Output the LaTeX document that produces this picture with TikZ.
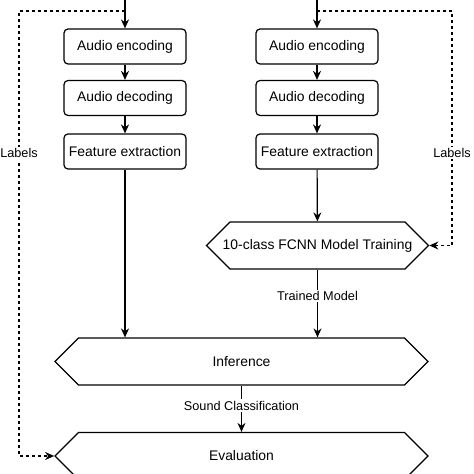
\documentclass[tikz,border=0pt]{standalone}
\usepackage{fontspec}
\setmainfont{Liberation Sans}
\usetikzlibrary{shapes,arrows,positioning,calc,arrows.meta}

\begin{document}
\begin{tikzpicture}[x=1pt, y=-1pt, line width=1.2pt, >={Stealth[length=9pt,width=8pt]},
    block/.style={draw, rounded corners=4pt, minimum width=122pt, minimum height=35pt, inner sep=0pt, font=\fontsize{13.9}{16}\selectfont},
    hexa/.style={draw, signal, signal to=east and west, signal pointer angle=90, minimum height=47pt, inner sep=0pt, font=\fontsize{13.9}{16}\selectfont},
    labelline/.style={->, dash pattern=on 3pt off 3pt},
    edgelabel/.style={fill=white, inner sep=1.5pt, font=\fontsize{12.7}{15}\selectfont}]
    \useasboundingbox (0,0) rectangle (474,474);

    % Left chain (test data)
    \node[block] at (125,46.5) (encL) {Audio encoding};
    \node[block] at (125,98) (decL) {Audio decoding};
    \node[block] at (125,151.5) (featL) {Feature extraction};
    % Right chain (training data)
    \node[block] at (317,46.5) (encR) {Audio encoding};
    \node[block] at (317,98) (decR) {Audio decoding};
    \node[block] at (317,151.5) (featR) {Feature extraction};

    % Model, inference and evaluation
    \node[hexa, minimum width=222pt] at (317.5,245.5) (train) {\makebox[174pt]{10-class FCNN Model Training}};
    \node[hexa, minimum width=373pt] at (241.5,361.5) (infer) {Inference};
    \node[hexa, minimum width=373pt] at (241.5,456) (eval) {Evaluation};

    % Inputs
    \coordinate (inL) at (125,-5);
    \coordinate (inR) at (317,-5);
    \coordinate (tapL) at (125,11);
    \coordinate (tapR) at (317,11);
    \coordinate (cornL1) at (19,11);
    \coordinate (cornL2) at (19,456);
    \coordinate (cornR1) at (452,11);
    \coordinate (cornR2) at (452,245.5);

    % Connections
    \draw[->] (inL) -- (encL);
    \draw[->] (encL) -- (decL);
    \draw[->] (decL) -- (featL);
    \draw[->] (inR) -- (encR);
    \draw[->] (encR) -- (decR);
    \draw[->] (decR) -- (featR);
    \draw[->] (featR) -- (train);
    \draw[->] (featL.south) -- (featL.south |- infer.north);
    \draw[->] (train.south) -- node[edgelabel, pos=0.39] {Trained Model} (train.south |- infer.north);
    \draw[->] (infer.south) -- node[edgelabel, pos=0.43] {Sound Classification} (eval.north);

    % Labels
    \draw[labelline] (tapL) -- (cornL1) -- node[edgelabel, pos=0.32] {Labels} (cornL2) -- (eval.west);
    \draw[labelline] (tapR) -- (cornR1) -- node[edgelabel, pos=0.606] {Labels} (cornR2) -- (train.east);
\end{tikzpicture}
\end{document}
